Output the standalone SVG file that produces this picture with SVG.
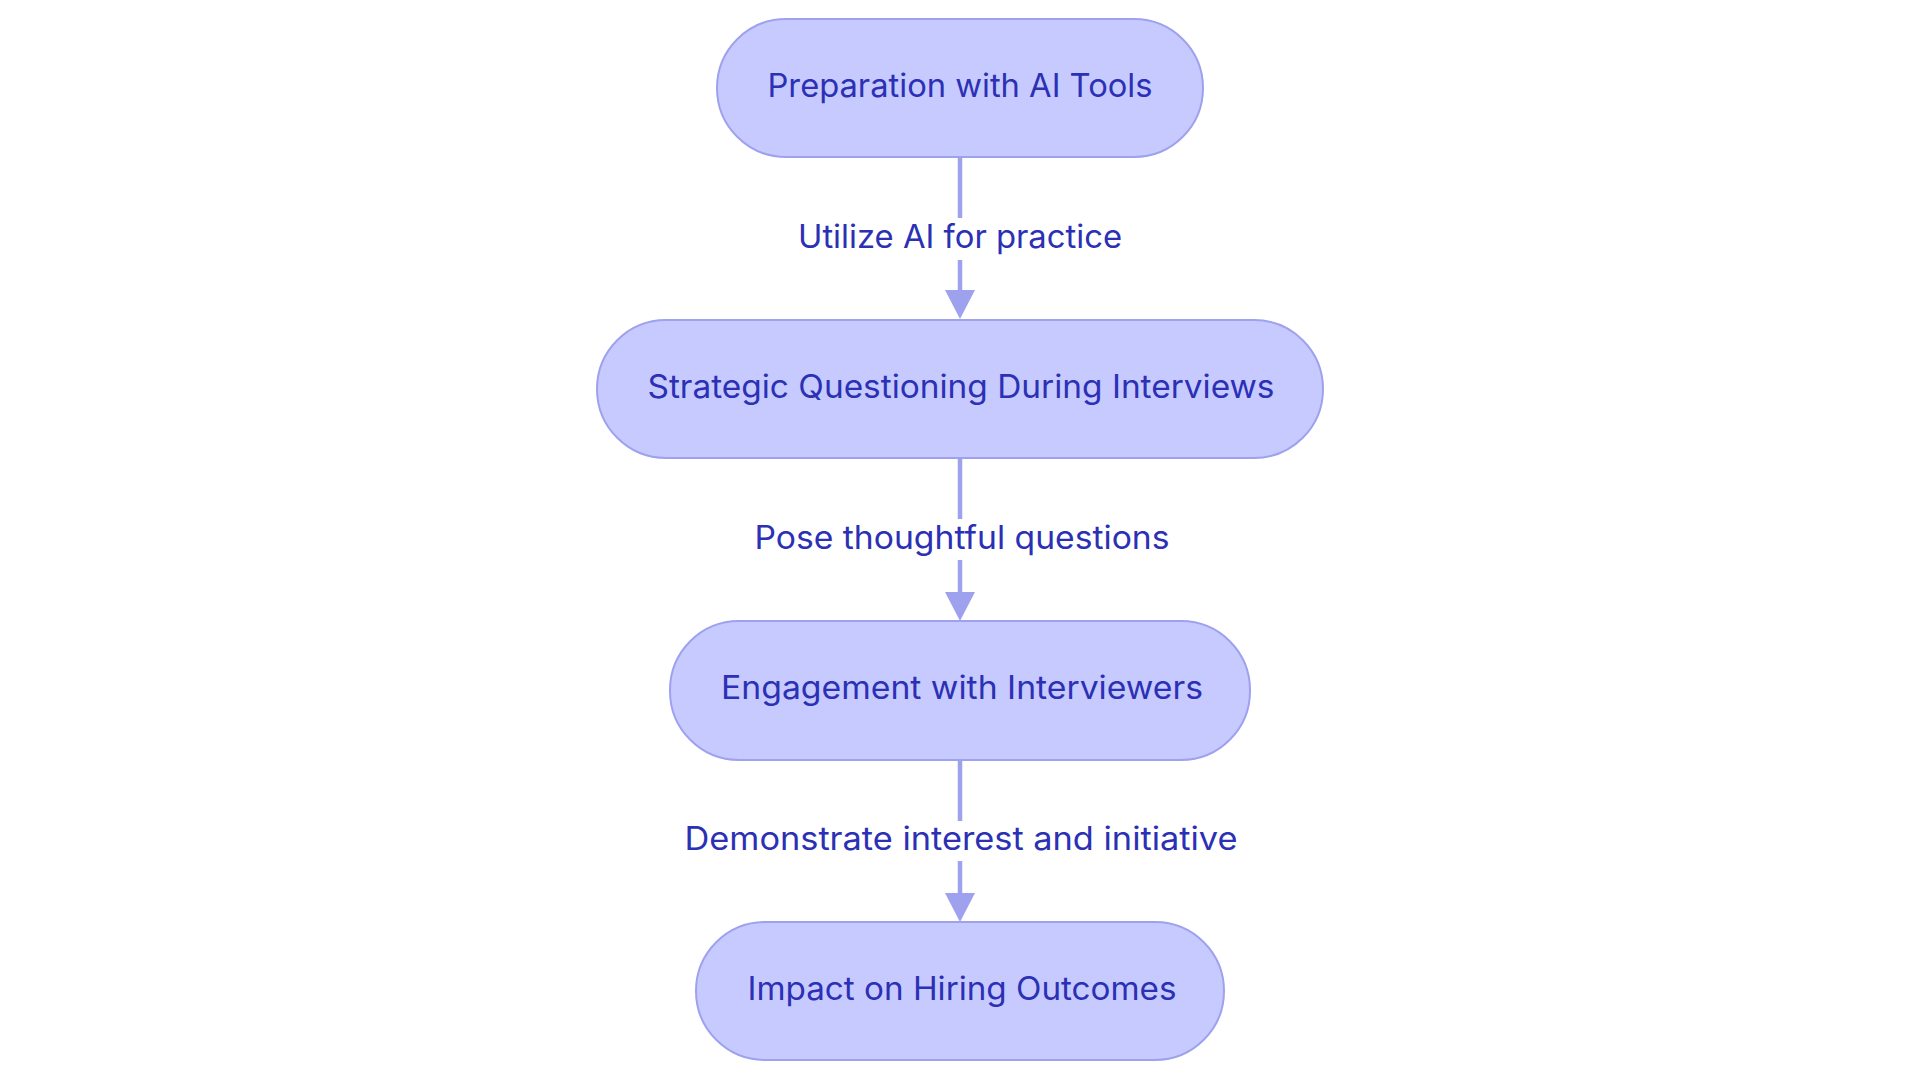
<svg xmlns="http://www.w3.org/2000/svg" width="1920" height="1083" viewBox="0 0 1920 1083">
<style>
.node rect{fill:#c7cafe;stroke:#9ea2ee;stroke-width:2}
.t{font-family:Inter,"Noto Sans",sans-serif;font-size:32px;fill:#2b30b5;text-anchor:middle}
.edge line{stroke:#9ea2ee;stroke-width:4.5}
.edge polygon{fill:#9ea2ee}
.lbl rect{fill:#ffffff}
</style>
<rect width="1920" height="1083" fill="#ffffff"/>
<g id="connectors">
<g class="edge" id="e1">
<line x1="960" y1="157" x2="960" y2="294"/>
<polygon points="945,290 975,290 960,319"/>
</g>
<g class="edge" id="e2">
<line x1="960" y1="458" x2="960" y2="595"/>
<polygon points="945,592 975,592 960,621"/>
</g>
<g class="edge" id="e3">
<line x1="960" y1="760" x2="960" y2="896"/>
<polygon points="945,893 975,893 960,922"/>
</g>
<g class="lbl" id="l1">
<rect x="796" y="218" width="328" height="42"/>
<text class="t" x="960" y="248" textLength="324" lengthAdjust="spacingAndGlyphs">Utilize AI for practice</text>
</g>
<g class="lbl" id="l2">
<rect x="753" y="519" width="419" height="41"/>
<text class="t" x="962" y="549" textLength="415" lengthAdjust="spacingAndGlyphs">Pose thoughtful questions</text>
</g>
<g class="lbl" id="l3">
<rect x="683" y="821" width="557" height="40"/>
<text class="t" x="961" y="850" textLength="553" lengthAdjust="spacingAndGlyphs">Demonstrate interest and initiative</text>
</g>
</g>
<g class="node" id="n1">
<rect x="717" y="19" width="486" height="138" rx="69" ry="69"/>
<text class="t" x="960" y="97" textLength="385" lengthAdjust="spacingAndGlyphs">Preparation with AI Tools</text>
</g>
<g class="node" id="n2">
<rect x="597" y="320" width="726" height="138" rx="69" ry="69"/>
<text class="t" x="961" y="398" textLength="627" lengthAdjust="spacingAndGlyphs">Strategic Questioning During Interviews</text>
</g>
<g class="node" id="n3">
<rect x="670" y="621" width="580" height="139" rx="69" ry="69"/>
<text class="t" x="962" y="699" textLength="482" lengthAdjust="spacingAndGlyphs">Engagement with Interviewers</text>
</g>
<g class="node" id="n4">
<rect x="696" y="922" width="528" height="138" rx="69" ry="69"/>
<text class="t" x="962" y="1000" textLength="429" lengthAdjust="spacingAndGlyphs">Impact on Hiring Outcomes</text>
</g>
</svg>
